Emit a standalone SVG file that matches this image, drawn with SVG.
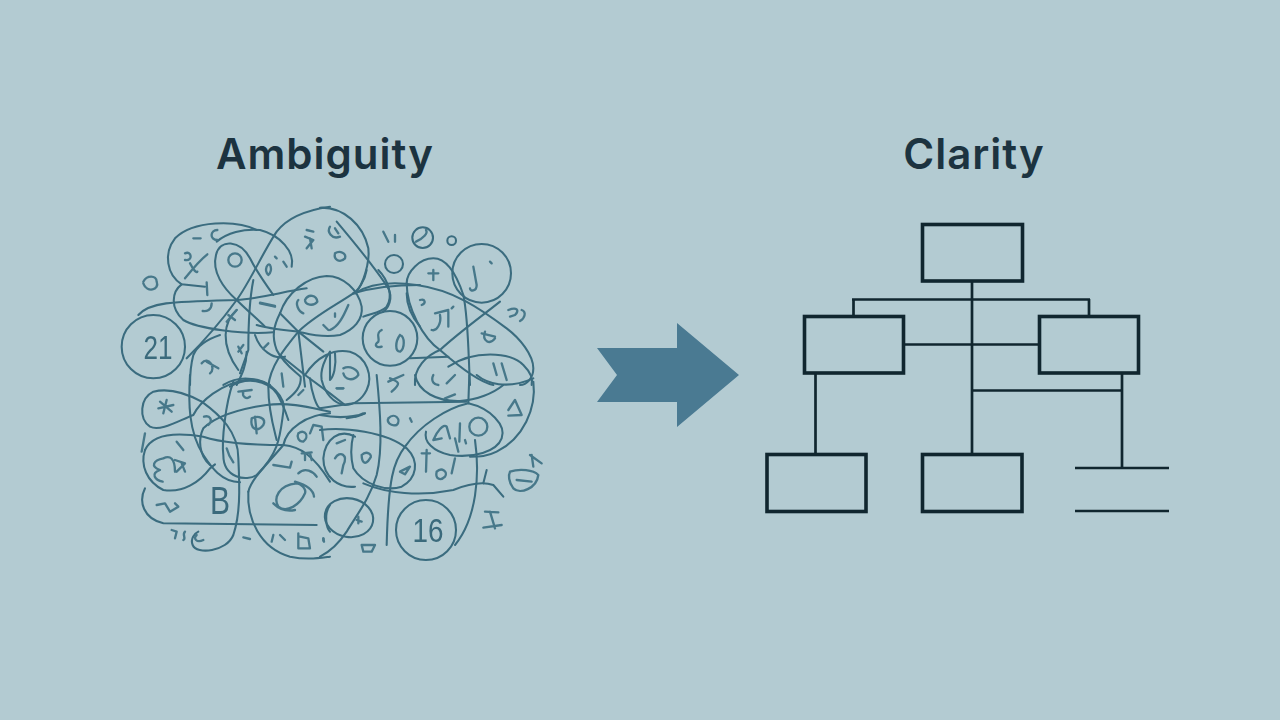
<svg xmlns="http://www.w3.org/2000/svg" width="1280" height="720" viewBox="0 0 1280 720">
<defs>
<style>
.t{font-family:"Inter","Liberation Sans",sans-serif;font-weight:600;fill:#1c3340;font-size:42px;letter-spacing:1px;text-anchor:middle}
.l{font-family:"Liberation Sans",sans-serif;fill:#3a6a7c;text-anchor:middle}
.s path,.s circle,.s ellipse,.s rect{fill:none;stroke:#3a6c7f;stroke-width:6.2;stroke-linecap:round;stroke-linejoin:round}
.s .m{stroke-width:7;stroke:#47788a}
.n rect{fill:none;stroke:#10262f;stroke-width:3.6}
.c line{stroke:#10262f;stroke-width:2.7}
</style>
<filter id="soft" x="-5%" y="-5%" width="110%" height="110%"><feGaussianBlur stdDeviation="0.35"/></filter>
</defs>
<rect width="1280" height="720" fill="#b3cbd2"/>
<text class="t" x="325" y="169">Ambiguity</text>
<text class="t" x="974" y="169">Clarity</text>
<g id="scribble" filter="url(#soft)">
<g class="s" transform="translate(110,195) scale(.33333)">
<path d="M440,105C380,75 250,75 195,130C160,175 170,240 215,268L285,275"/>
<path d="M545,215C555,170 510,120 450,105C400,100 350,115 320,140"/>
<path d="M380,315C340,280 305,230 318,180C330,130 390,135 420,190C445,240 470,270 490,300"/>
<path d="M230,490C280,440 340,370 380,315C420,260 460,170 500,110C530,70 590,45 660,35"/>
<path d="M85,360C120,320 190,320 380,315C450,310 520,290 590,280"/>
<path d="M215,268C185,290 180,340 220,375C260,400 400,420 490,412"/>
<circle cx="130" cy="455" r="95"/>
<path d="M330,420C300,430 265,445 250,480C242,510 240,540 240,570"/>
<path d="M380,345C340,380 330,450 385,525M410,470C410,510 395,540 380,570"/>
<path d="M380,315C410,345 440,370 465,395"/>
<path d="M340,570C380,545 430,545 480,570"/>
<path d="M250,130L272,130M322,105C300,105 298,135 322,135" class="m"/>
<circle cx="375" cy="195" r="20" class="m"/>
<path d="M225,175C245,165 250,200 225,195M240,205C250,225 260,235 262,230M292,178C270,195 245,225 225,250" class="m"/>
<path d="M290,262L292,300M305,325C305,345 290,350 278,348" class="m"/>
<path d="M470,215C480,195 490,225 475,240C465,230 468,220 470,215M495,185L500,190M520,200L530,215" class="m"/>
<path d="M100,260C110,240 140,240 140,260C150,285 110,295 100,265" class="m"/>
<path d="M350,380L380,345M355,360L375,375" class="m"/>
<path d="M385,470L400,450M385,455L395,475" class="m"/>
<path d="M275,505C295,480 320,520 300,535M290,500L325,520" class="m"/>
<path d="M590,105L610,110M585,125L610,135L590,160M605,160L600,130" class="m"/>
<path d="M450,325L495,335" class="m"/>
</g>
<g class="s" transform="translate(230,270) scale(.33333)">
<path d="M150,130C170,70 230,20 290,18C340,18 385,60 395,110C400,150 370,180 330,195C270,205 230,190 205,185"/>
<path d="M150,130C130,170 125,200 140,240C160,280 190,300 212,320C215,350 195,370 170,390"/>
<path d="M370,70C310,110 250,140 205,185C160,240 120,290 115,350C115,420 130,470 140,510"/>
<path d="M150,130L205,185L280,245M205,185L225,350"/>
<path d="M80,165C110,175 160,180 205,185"/>
<path d="M70,30C58,90 55,180 55,240L30,310"/>
<path d="M75,195C90,240 130,270 165,260"/>
<path d="M225,315C260,260 310,235 360,245C410,260 430,320 410,360C395,390 370,405 345,405C310,400 285,370 275,330C270,300 285,265 300,245"/>
<path d="M150,255L225,315L300,370L345,405"/>
<path d="M240,325C245,370 260,410 270,415"/>
<path d="M300,250L300,330M315,250C320,290 310,320 300,330"/>
<path d="M0,350C50,320 110,330 140,370C155,395 165,420 175,450"/>
<path d="M350,445C370,442 390,438 405,430"/>
<path d="M370,70C410,58 470,45 570,45"/>
<path d="M445,0C475,30 490,80 470,110C450,130 420,130 400,140"/>
<path d="M410,0C405,30 385,60 370,70"/>
<path d="M530,70C530,110 545,140 570,170"/>
<path d="M205,90C195,100 205,125 220,130" class="m"/>
<path d="M225,90C235,70 260,75 262,95C250,110 225,105 225,90" class="m"/>
<path d="M355,105C340,140 325,170 300,180M280,165L295,180M315,130L315,140" class="m"/>
<path d="M90,98L135,108" class="m"/>
<path d="M100,235L115,220M155,310L160,350" class="m"/>
<path d="M205,375L220,360M320,355L340,355" class="m"/>
<path d="M340,295C360,285 385,300 385,315C370,335 345,330 340,310" class="m"/>
</g>
<g class="s" transform="translate(320,195) scale(.33333)">
<path d="M0,38C70,35 130,90 145,160C150,200 130,270 105,295"/>
<path d="M50,80C100,140 160,210 205,280C220,310 205,340 190,350"/>
<path d="M105,295C150,265 220,260 290,270C400,285 480,340 560,400C600,430 640,480 640,520C640,550 620,570 600,570"/>
<circle cx="210" cy="430" r="82"/>
<path d="M260,265C260,230 300,190 340,190C380,190 410,240 430,300C445,370 445,480 450,570"/>
<path d="M260,265C260,340 310,430 360,465C400,500 470,560 520,570"/>
<circle cx="485" cy="235" r="88"/>
<path d="M540,320C490,360 420,410 360,465C320,480 280,520 285,570"/>
<path d="M270,490L385,485"/>
<path d="M385,515C460,465 570,470 610,510C630,530 640,550 635,570"/>
<circle cx="308" cy="128" r="31"/>
<circle cx="395" cy="137" r="13"/>
<circle cx="222" cy="207" r="27"/>
<path d="M190,110L205,140M225,120L225,140M288,140C310,130 325,115 318,105" class="m"/>
<path d="M30,95C20,110 35,135 60,125M45,100L55,115" class="m"/>
<path d="M45,175C60,165 80,175 75,190C60,205 40,195 45,175" class="m"/>
<path d="M185,405C165,415 180,430 175,440C160,450 170,460 185,455M240,420C225,440 225,470 240,470C255,460 255,425 240,420" class="m"/>
<path d="M460,215L470,270C470,290 450,290 450,280M510,200L515,205" class="m"/>
<path d="M340,225L340,255M325,235L355,235" class="m"/>
<path d="M300,315C315,310 320,325 305,330" class="m"/>
<path d="M345,355L385,345M360,360C365,385 350,410 335,405M385,350L385,395M395,340L400,335" class="m"/>
<path d="M565,345C590,335 600,345 585,360L570,365M605,345C620,350 615,370 600,378" class="m"/>
<path d="M485,415L525,425M495,410C485,440 510,450 525,430" class="m"/>
<path d="M520,505L530,540M545,505L560,555" class="m"/>
<path d="M205,560L250,540M340,540C330,560 345,570 355,570M380,565L405,540" class="m"/>
</g>
<g class="s" transform="translate(110,375) scale(.33333)">
<path d="M240,0C235,80 235,170 280,240C300,270 330,320 390,322"/>
<path d="M275,80C220,50 170,40 130,50C90,70 85,130 120,155C150,170 200,140 250,120C270,80 330,25 420,12C480,12 530,70 520,110C510,180 510,230 440,300C410,320 340,310 340,240C335,200 345,90 370,20"/>
<path d="M275,80C330,120 385,170 385,250C390,350 390,420 370,480C350,530 260,540 248,510C240,490 255,475 265,470"/>
<path d="M105,225C130,170 220,175 280,185C340,205 440,210 520,210C570,215 610,240 660,320"/>
<path d="M105,225C90,270 110,320 160,345C220,355 270,320 300,280L315,268"/>
<path d="M280,160C320,120 400,100 470,90C540,80 610,100 660,110M280,160C265,190 265,240 300,270"/>
<path d="M520,210C530,160 590,120 660,115"/>
<path d="M105,340C85,380 100,430 160,445L620,450"/>
<path d="M415,350C410,430 450,520 540,545C590,555 620,550 660,545"/>
<path d="M415,350C425,310 470,270 520,210"/>
<path d="M660,390C640,420 650,460 660,470"/>
<path d="M150,80L185,110M170,75L160,115M145,100L190,90" class="m"/>
<path d="M385,50L425,45M400,50C395,65 410,75 420,65" class="m"/>
<path d="M282,125C300,120 310,135 295,150" class="m"/>
<path d="M425,130C445,120 470,130 460,150C440,175 420,160 425,130M435,125L440,175" class="m"/>
<path d="M350,220C355,240 365,255 370,262" class="m"/>
<path d="M565,175C585,160 600,185 580,200C565,200 560,185 565,175M600,175L610,150L635,155L640,195" class="m"/>
<path d="M575,235L605,232M585,235L585,255M600,235L605,255" class="m"/>
<path d="M160,250C130,255 120,275 150,285C120,295 135,315 158,320M160,250C180,240 195,250 195,290M195,255L225,265L200,290M215,265L225,290" class="m"/>
<path d="M200,200L220,225M105,175L95,230" class="m"/>
<path d="M490,270L540,278L545,260M565,295C585,275 610,290 620,305" class="m"/>
<path d="M560,325C505,330 490,370 505,395C530,415 570,390 585,355C590,340 570,325 560,325M555,320C590,330 610,345 612,365M490,385C510,405 530,410 555,405" class="m"/>
<path d="M140,390L165,385L180,410L205,395L195,385" class="m"/>
<path d="M185,465L200,470L195,490M225,470C215,480 230,490 220,495M260,480C248,490 260,505 280,495" class="m"/>
<path d="M400,487L420,492M490,480L485,500M510,480L525,495M565,475L565,520L600,520L595,490L570,485" class="m"/>
<path d="M640,490L640,497" class="m"/>
</g>
<g class="s" transform="translate(320,375) scale(.33333)">
<path d="M0,100L100,85L440,80"/>
<path d="M448,0L445,85"/>
<path d="M445,85C510,100 560,150 545,190C530,230 460,250 390,240C340,230 310,200 318,170"/>
<path d="M640,20C650,100 610,190 530,230C500,245 480,245 450,245"/>
<path d="M445,85C380,100 300,150 255,215C220,260 205,310 200,510"/>
<path d="M285,0C295,50 350,80 420,78C470,75 520,55 550,30"/>
<path d="M470,0C500,25 560,45 640,10"/>
<path d="M170,0C180,100 190,220 170,300C150,370 110,420 80,470C60,500 30,530 0,545"/>
<ellipse cx="87" cy="428" rx="73" ry="58" transform="rotate(10 87 428)"/>
<path d="M105,185C60,160 15,190 10,250C10,310 60,340 105,335"/>
<path d="M0,165C70,155 200,170 260,220C300,260 290,310 245,335C200,350 130,330 100,280C90,240 95,200 100,180"/>
<path d="M130,325C200,355 300,365 400,345C450,325 490,320 520,330L550,365"/>
<path d="M500,285L490,325"/>
<circle cx="318" cy="465" r="90"/>
<path d="M465,195C480,300 470,430 405,510"/>
<path d="M0,120C50,130 90,130 135,115M105,125L130,115"/>
<path d="M50,40L70,40M210,10C230,20 250,20 215,50M375,70L405,58" class="m"/>
<path d="M205,130C225,110 245,135 230,150C210,155 200,140 205,130M270,130L275,140" class="m"/>
<path d="M50,205L75,195M45,250C60,225 85,240 70,270L65,295" class="m"/>
<path d="M125,240C140,225 160,240 150,250C135,275 125,260 125,240" class="m"/>
<path d="M240,290L270,275L255,298L240,290" class="m"/>
<path d="M110,435L125,440M115,425L115,445" class="m"/>
<path d="M125,510L165,510L155,530L130,530L125,510" class="m"/>
<path d="M340,195C350,170 370,145 380,155L390,190M340,195L365,190M420,145L418,200M405,190L415,230M435,195L438,205" class="m"/>
<circle cx="475" cy="155" r="27" class="m"/>
<path d="M320,225L318,290M305,235L330,235M405,250L395,295" class="m"/>
<path d="M350,290C365,275 385,290 375,305C360,320 345,310 350,290" class="m"/>
<path d="M565,105L585,75L605,120L565,122" class="m"/>
<path d="M570,290C600,280 640,285 655,300C650,340 600,360 580,340C565,320 565,300 570,290M590,315L635,320M630,240L665,265M635,240L640,275" class="m"/>
<path d="M495,410L535,412M510,410L525,460M490,458L545,450" class="m"/>
<path d="M10,490L12,500" class="m"/>
</g>
<text class="l" x="158" y="359" font-size="33" textLength="29" lengthAdjust="spacingAndGlyphs">21</text>
<text class="l" x="428" y="542" font-size="34" textLength="31" lengthAdjust="spacingAndGlyphs">16</text>
<text class="l" x="220" y="514" font-size="38" textLength="20" lengthAdjust="spacingAndGlyphs" style="font-weight:300">B</text>
</g>
<g id="arrow"><path d="M597,348L677,348L677,323L739,375L677,427L677,402L597,402L617,375Z" fill="#4a7a92"/></g>
<g id="connectors" class="c">
<line x1="972" y1="282" x2="972" y2="454"/>
<line x1="852" y1="299.5" x2="1090" y2="299.5"/>
<line x1="853.5" y1="299" x2="853.5" y2="316"/>
<line x1="1089" y1="299" x2="1089" y2="316"/>
<line x1="905" y1="344.5" x2="1038" y2="344.5"/>
<line x1="972" y1="390.5" x2="1122" y2="390.5"/>
<line x1="1122" y1="374" x2="1122" y2="468"/>
<line x1="815.5" y1="374" x2="815.5" y2="454"/>
</g>
<g id="node-top" class="n"><rect x="922.5" y="224.5" width="100" height="56.5"/></g>
<g id="node-mid-left" class="n"><rect x="804.5" y="316.5" width="99" height="56.5"/></g>
<g id="node-mid-right" class="n"><rect x="1039.5" y="316.5" width="99" height="56.5"/></g>
<g id="node-bottom-left" class="n"><rect x="767" y="454.5" width="99" height="57"/></g>
<g id="node-bottom-center" class="n"><rect x="922.5" y="454.5" width="99.5" height="57"/></g>
<g id="node-bottom-right" class="c"><line x1="1075" y1="468" x2="1169" y2="468"/><line x1="1075" y1="511" x2="1169" y2="511"/></g>
</svg>
